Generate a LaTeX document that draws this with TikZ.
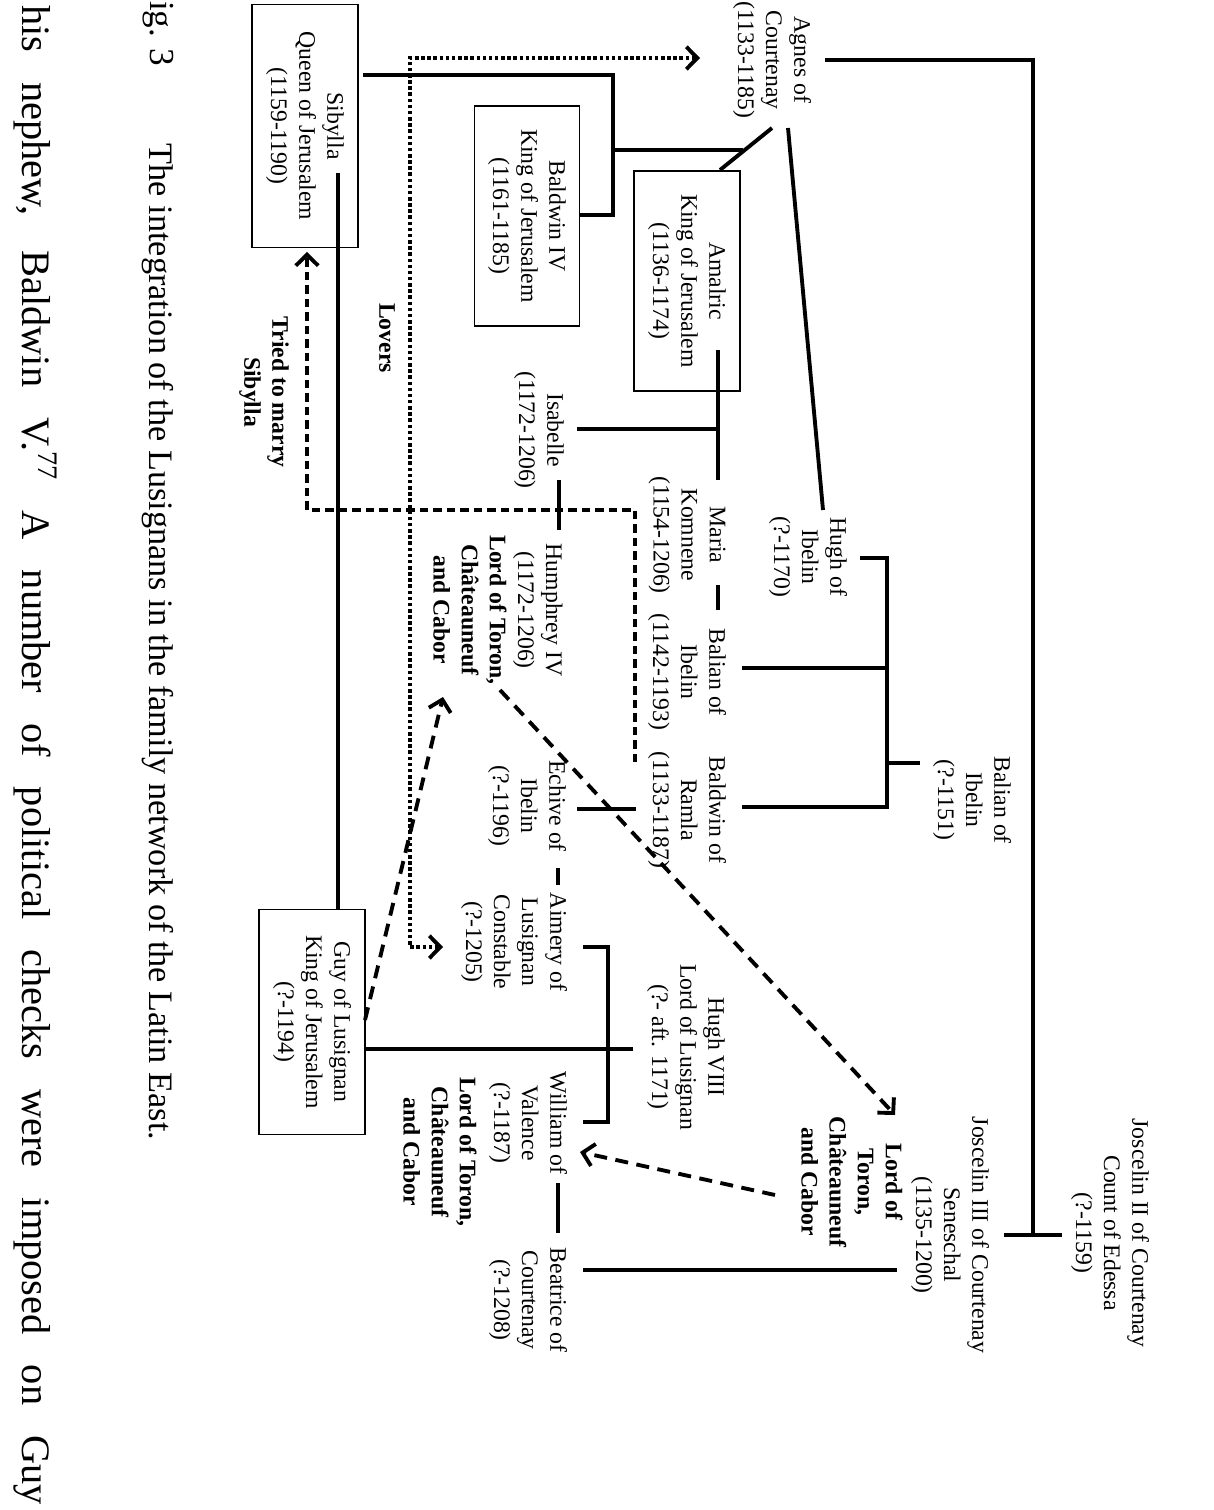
\documentclass[tikz,border=0pt]{standalone}
\usepackage{fontspec}
\setmainfont{Liberation Serif}
\usetikzlibrary{arrows.meta}
\begin{document}
\begin{tikzpicture}[x=0.02cm,y=-0.02cm,
  txt/.style={rotate=-90,align=center,inner sep=1pt,font=\fontsize{13.5}{16}\selectfont},
  btxt/.style={txt,font=\fontsize{13.5}{16}\selectfont\bfseries},
  boxed/.style={txt,draw,line width=0.8pt,minimum height=2.12cm},
  rel/.style={line width=2.2pt},
  dsh/.style={line width=2.2pt,dash pattern=on 0.26cm off 0.17cm},
  dsh2/.style={line width=2.2pt,dash pattern=on 0.17cm off 0.1cm},
  dot/.style={line width=2.6pt,dash pattern=on 2pt off 1.5pt},
  arr/.style={-{Straight Barb[length=2.2mm,width=4.5mm,line width=2.2pt]}}]
\useasboundingbox (0,0) rectangle (1213,1510);
% people
\node[txt] (agnes) at (772,60) {Agnes of\\Courtenay\\(1133-1185)};
\node[txt] (josII) at (1110,1233) {Joscelin II of Courtenay\\Count of Edessa\\(?-1159)};
\node[txt] (hughI) at (808,557) {Hugh of\\Ibelin\\(?-1170)};
\node[txt] (balI) at (972,800) {Balian of\\Ibelin\\(?-1151)};
\node[boxed,minimum width=4.4cm] (amal) at (687,281) {Amalric\\King of Jerusalem\\(1136-1174)};
\node[boxed,minimum width=4.4cm,minimum height=2.1cm] (bald) at (527,216) {Baldwin IV\\King of Jerusalem\\(1161-1185)};
\node[boxed,minimum width=4.86cm] (sib) at (305,126) {Sibylla\\Queen of Jerusalem\\(1159-1190)};
\node[boxed,minimum width=4.5cm] (guy) at (312,1022) {Guy of Lusignan\\King of Jerusalem\\(?-1194)};
\node[txt] (isa) at (539,430) {Isabelle\\(1172-1206)};
\node[txt] (maria) at (687,535) {Maria\\Komnene\\(1154-1206)};
\node[txt] (balII) at (687,672) {Balian of\\Ibelin\\(1142-1193)};
\node[txt] (ramla) at (687,810) {Baldwin of\\Ramla\\(1133-1187)};
\node[txt] (hum) at (498,610) {Humphrey IV\\(1172-1206)\\\textbf{Lord of Toron,}\\\textbf{Châteauneuf}\\\textbf{and Cabor}};
\node[txt] (ech) at (527,806) {Echive of\\Ibelin\\(?-1196)};
\node[txt] (aim) at (514,942) {Aimery of\\Lusignan\\Constable\\(?-1205)};
\node[txt] (hughVIII) at (686,1047) {Hugh VIII\\Lord of Lusignan\\(?- aft. 1171)};
\node[txt] (wil) at (528,1123) {William of\\Valence\\(?-1187)};
\node[btxt] (wilb) at (440,1152) {Lord of Toron,\\Châteauneuf\\and Cabor};
\node[txt] (bea) at (528,1300) {Beatrice of\\Courtenay\\(?-1208)};
\node[txt] (josIII) at (950,1235) {Joscelin III of Courtenay\\Seneschal\\(1135-1200)};
\node[btxt] (josIIIb) at (852,1182) {Lord of\\Toron,\\Châteauneuf\\and Cabor};
\node[btxt] (lov) at (387,338) {Lovers};
\node[btxt] (tried) at (264,392) {Tried to marry\\Sibylla};
\node[rotate=-90,inner sep=0pt,font=\fontsize{20}{24}\selectfont] (fig) at (158,24) {Fig. 3};
\node[rotate=-90,inner sep=0pt,font=\fontsize{19.5}{24}\selectfont] (cap) at (158,642) {The integration of the Lusignans in the family network of the Latin East.};
\node[rotate=-90,inner sep=0pt,font=\fontsize{23}{28}\selectfont] (body) at (35,755) {\makebox[30cm][s]{his nephew, Baldwin V.\textsuperscript{77} A number of political checks were imposed on Guy}};
% family lines
\coordinate (j1) at (1033,60);
\draw[rel] (825,60) -- (j1) -- (1033,1235);
\draw[rel] (1004,1235) -- (1062,1235);
\draw[rel] (788,128) -- (823,510);
\draw[rel] (772,128) -- (720,170);
\draw[rel] (363,75) -- (613,75) -- (613,215) -- (580,215);
\draw[rel] (613,150) -- (743,150);
\draw[rel] (718,350) -- (718,480);
\draw[rel] (577,429) -- (718,429);
\draw[rel] (718,585) -- (718,610);
\draw[rel] (860,558) -- (887,558) -- (887,807) -- (742,807);
\draw[rel] (887,668) -- (742,668);
\draw[rel] (887,763) -- (920,763);
\draw[rel] (559,480) -- (559,530);
\draw[rel] (577,809) -- (636,809);
\draw[rel] (558,868) -- (558,885);
\draw[rel] (558,1183) -- (558,1233);
\draw[rel] (583,947) -- (608,947) -- (608,1122) -- (583,1122);
\draw[rel] (338,173) -- (338,910);
\draw[rel] (365,1049) -- (633,1049);
\draw[rel] (583,1270) -- (897,1270);
% relations
\draw[dot,{Straight Barb[length=2.2mm,width=4.5mm,line width=2.2pt]}-{Straight Barb[length=2.2mm,width=4.5mm,line width=2.2pt]}] (443,947) -- (410,947) -- (410,58) -- (700,58);
\draw[dsh2,arr] (635,762) -- (635,510) -- (307,510) -- (307,252);
\draw[dsh,arr] (500,690) -- (895,1115);
\draw[dsh,arr] (365,1020) -- (443,697);
\draw[dsh,arr] (775,1195) -- (580,1152);
\end{tikzpicture}
\end{document}
